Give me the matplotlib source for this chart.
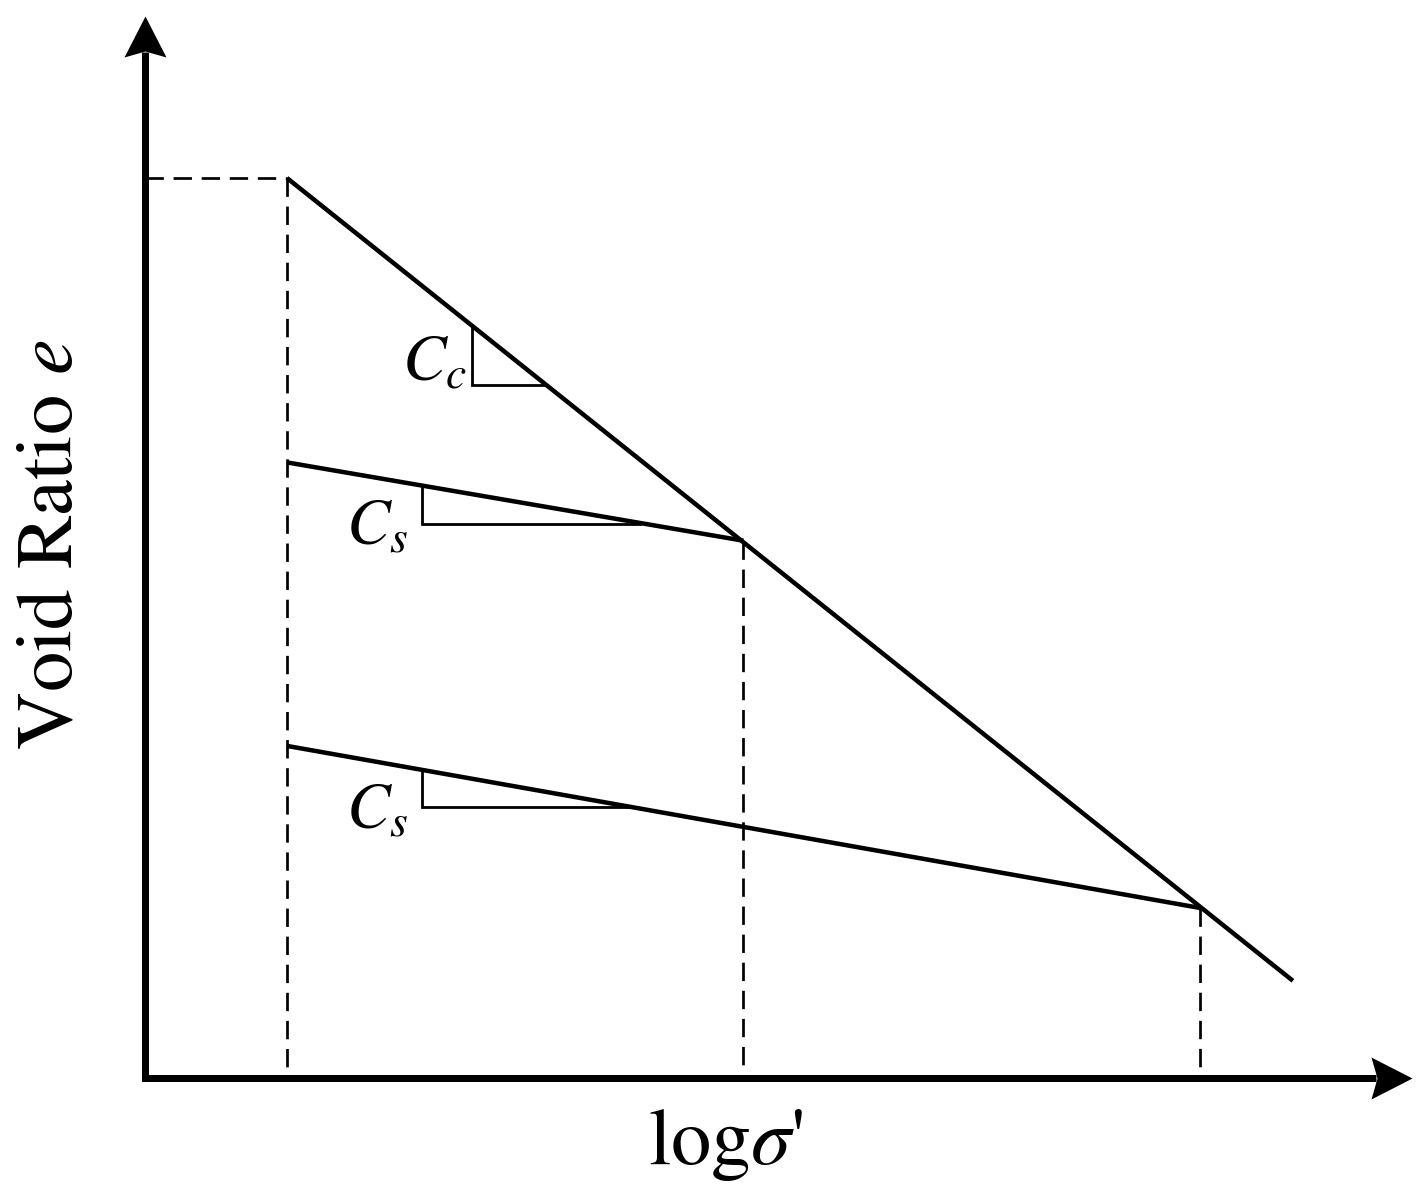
import numpy as np
import matplotlib.pyplot as plt
from matplotlib.path import Path

plt.rcParams['mathtext.fontset'] = 'stix'
plt.rcParams['font.family'] = ['STIXGeneral', 'Liberation Serif', 'DejaVu Serif']

# axis extents (log sigma', void ratio e)
x_origin = 0.689
x_end = 3.465
e_end = 1.18

# preconsolidation point and virgin compression line
vcl_x = [1.0, 3.204]
vcl_e = [1.0, 0.108]

# unloading / reloading lines
url1_x = [1.0, 2.0]
url1_e = [0.684, 0.597]
url2_x = [1.0, 3.0]
url2_e = [0.369, 0.189]

# slope triangles: (x_left, x_right, e_top, e_bottom)
tri_cc = (1.405, 1.568, 0.836, 0.770)
tri_cs1 = (1.296, 1.773, 0.659, 0.616)
tri_cs2 = (1.296, 1.754, 0.342, 0.301)

W, H = 1428, 1196
fig = plt.figure(figsize=(W / 100, H / 100), dpi=100)
ax = fig.add_axes([145 / W, (H - 1078) / H, (1412 - 145) / W, (1078 - 16) / H])
ax.set_xlim(x_origin, x_end)
ax.set_ylim(0, e_end)
ax.axis('off')

px = 0.72  # points per pixel

# axes with arrow heads
head_len_x = 36 / 456.4
head_len_y = 36 / 900
ax.plot([x_origin, x_origin, x_end - head_len_x], [e_end - head_len_y, 0, 0],
        color='black', lw=7 * px, solid_joinstyle='miter', solid_capstyle='butt',
        clip_on=False)
right_head = Path([(0, 0), (-41, 21), (-35, 0), (-41, -21), (0, 0)],
                  [Path.MOVETO, Path.LINETO, Path.LINETO, Path.LINETO, Path.CLOSEPOLY])
up_head = Path([(0, 0), (21, -41), (0, -35), (-21, -41), (0, 0)],
               [Path.MOVETO, Path.LINETO, Path.LINETO, Path.LINETO, Path.CLOSEPOLY])
ax.plot([x_end], [0], marker=right_head, markersize=82 * px, color='black',
        markeredgewidth=0, clip_on=False)
ax.plot([x_origin], [e_end], marker=up_head, markersize=82 * px, color='black',
        markeredgewidth=0, clip_on=False)

# dashed guide lines
dash = dict(color='black', lw=2.7 * px, dashes=(6.8, 3.6))
ax.plot([x_origin, vcl_x[0]], [vcl_e[0], vcl_e[0]], **dash)
ax.plot([vcl_x[0], vcl_x[0]], [vcl_e[0], 0], **dash)
ax.plot([url1_x[1], url1_x[1]], [url1_e[1], 0], **dash)
ax.plot([url2_x[1], url2_x[1]], [url2_e[1], 0], **dash)

# compression and swelling lines
main = dict(color='black', lw=4.5 * px, solid_capstyle='butt')
ax.plot(vcl_x, vcl_e, **main)
ax.plot(url1_x, url1_e, **main)
ax.plot(url2_x, url2_e, **main)

# slope triangles
for xl, xr, et, eb in [tri_cc, tri_cs1, tri_cs2]:
    ax.plot([xl, xl, xr], [et, eb, eb], color='black', lw=2.8 * px,
            solid_joinstyle='miter')

# labels
lab = dict(fontsize=47, ha='right', va='center')
ax.text(tri_cc[0] - 0.01, 0.792, r'$C_c$', **lab)
ax.text(tri_cs1[0] - 0.03, 0.61, r'$C_s$', **lab)
ax.text(tri_cs2[0] - 0.03, 0.294, r'$C_s$', **lab)

fig.text(53 / W, 1 - 545 / H, r'Void Ratio $e$', rotation=90, fontsize=58,
         ha='center', va='center')
fig.text(726 / W, 1 - 1164 / H, r"log$\sigma$'", fontsize=58,
         ha='center', va='baseline')

fig.savefig('out.png', dpi=100, facecolor='white')
